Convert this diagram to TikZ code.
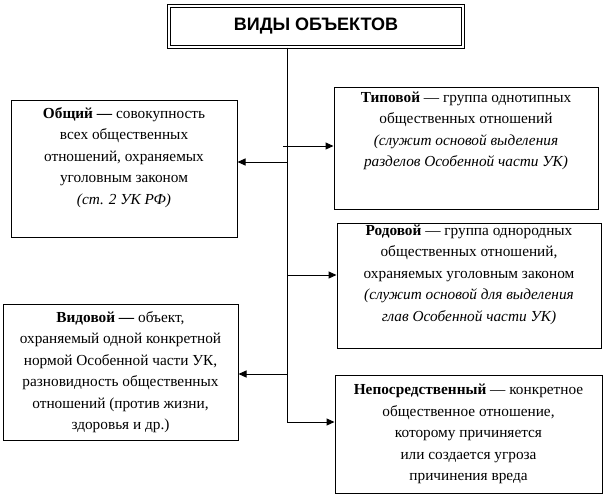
\documentclass[tikz,border=0pt]{standalone}
\usepackage{fontspec}
\setmainfont{Liberation Serif}
\newfontfamily\titlefont{Liberation Sans}
\usetikzlibrary{arrows.meta}
\tikzset{
  kindbox/.style={draw, line width=1pt, align=center, font=\fontsize{15.3}{21.5}\selectfont, inner sep=0pt},
  titlebox/.style={draw, double, double distance=2pt, line width=1pt, font=\titlefont\bfseries\fontsize{18}{21}\selectfont},
  link/.style={-{Triangle[length=8pt,width=7pt]}, line width=1pt}
}
\begin{document}
\begin{tikzpicture}[x=1pt,y=-1pt]
    \useasboundingbox (0,0) rectangle (605,501);
    % Заголовок
    \node[titlebox, minimum width=294pt, minimum height=41pt] (title) at (316,26.5) {ВИДЫ ОБЪЕКТОВ};

    % Виды
    \node[kindbox, minimum width=226pt, minimum height=137pt] (common) at (124,168.5)
      {\textbf{Общий —} совокупность\\ всех общественных\\ отношений, охраняемых\\ уголовным законом\\ \textit{(ст. 2 УК РФ)}\\[4pt]};
    \node[kindbox, minimum width=264pt, minimum height=122pt] (typical) at (466,148)
      {\textbf{Типовой} — группа однотипных\\ общественных отношений\\ \textit{(служит основой выделения}\\ \textit{разделов Особенной части УК)}\\[16pt]};
    \node[kindbox, minimum width=264pt, minimum height=125pt] (generic) at (469,285.5)
      {\textbf{Родовой} — группа однородных\\ общественных отношений,\\ охраняемых уголовным законом\\ \textit{(служит основой для выделения}\\ \textit{глав Особенной части УК)}\\[4pt]};
    \node[kindbox, minimum width=235pt, minimum height=136pt] (specific) at (120.5,372)
      {\textbf{Видовой —} объект,\\ охраняемый одной конкретной\\ нормой Особенной части УК,\\ разновидность общественных\\ отношений (против жизни,\\ здоровья и др.)};
    \node[kindbox, minimum width=267pt, minimum height=118pt] (direct) at (468.5,434)
      {\textbf{Непосредственный} — конкретное\\ общественное отношение,\\ которому причиняется\\ или создается угроза\\ причинения вреда};

    % Ствол и стрелки
    \coordinate (trunk) at (287,422);
    \draw[line width=1pt] (title.south -| trunk) -- (trunk);
    \coordinate (t1) at (287,162);
    \coordinate (t2) at (283,146);
    \coordinate (t3) at (287,275);
    \coordinate (t4) at (287,374);
    \draw[link] (t1) -- (t1 -| common.east);
    \draw[link] (t2) -- (t2 -| typical.west);
    \draw[link] (t3) -- (t3 -| generic.west);
    \draw[link] (t4) -- (t4 -| specific.east);
    \draw[link] (trunk) -- (trunk -| direct.west);
\end{tikzpicture}
\end{document}
